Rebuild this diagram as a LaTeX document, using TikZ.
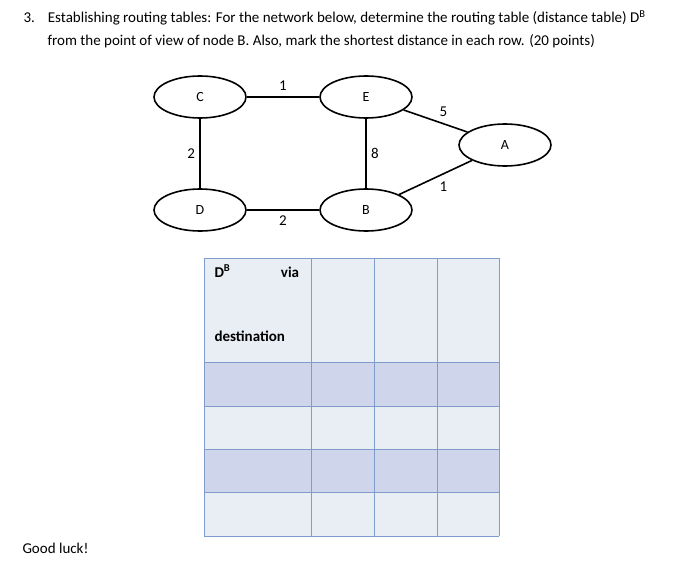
\documentclass[tikz,border=0pt]{standalone}
\usepackage{fontspec}
\setmainfont{Carlito}
\usetikzlibrary{shapes.geometric}
\definecolor{cellA}{HTML}{E9EDF4}
\definecolor{cellB}{HTML}{CFD5EA}
\definecolor{grid}{HTML}{7F9CCB}
\begin{document}
\begin{tikzpicture}[x=1pt,y=-1pt,
  nd/.style={ellipse,draw,line width=1.6pt,minimum width=92pt,minimum height=42pt,inner sep=0pt,font=\fontsize{14}{16}\selectfont},
  ed/.style={line width=1.6pt},
  wt/.style={font=\fontsize{15}{17}\selectfont},
  tt/.style={font=\fontsize{15}{18}\selectfont,anchor=west},
  tb/.style={font=\bfseries\fontsize{15}{17}\selectfont}]
\useasboundingbox (0,0) rectangle (700,564);
\fill[white] (0,0) rectangle (700,564);
\node[tt] (t1) at (20,18) {3.\hspace{13pt}Establishing routing tables: For the network below, determine the routing table (distance table) D\textsuperscript{B}};
\node[tt] (t2) at (44,41) {from the point of view of node B. Also, mark the shortest distance in each row. (20 points)};
\node[nd] (C) at (200,97) {C};
\node[nd] (E) at (366,97) {E};
\node[nd] (D) at (200,210) {D};
\node[nd] (B) at (366,210) {B};
\node[nd] (A) at (505,145) {A};
\draw[ed] (C) -- node[wt,above=2pt]{1} (E);
\draw[ed] (C) -- node[wt,left=1pt]{2} (D);
\draw[ed] (E) -- node[wt,right=1pt]{8} (B);
\draw[ed] (D) -- node[wt,below=2pt]{2} (B);
\draw[ed] (E) -- node[wt,above right=0pt]{5} (A);
\draw[ed] (B) -- node[wt,below right=0pt]{1} (A);
% table
\fill[cellA] (204,258) rectangle (499,362);
\fill[cellB] (204,362) rectangle (499,406);
\fill[cellA] (204,406) rectangle (499,449);
\fill[cellB] (204,449) rectangle (499,492);
\fill[cellA] (204,492) rectangle (499,536);
\foreach \y in {258,362,406,449,492,536} \draw[grid,line width=1pt] (204,\y) -- (499,\y);
\foreach \x in {204,311,374,437,499} \draw[grid,line width=1pt] (\x,258) -- (\x,536);
\node[tb,anchor=west] (db) at (211,271) {D\textsuperscript{B}};
\node[tb] (via) at (290,272) {via};
\node[tb,anchor=west] (dst) at (211,336) {destination};
\node[font=\fontsize{15}{17}\selectfont,anchor=west] (gl) at (19,548) {Good luck!};
\end{tikzpicture}
\end{document}
